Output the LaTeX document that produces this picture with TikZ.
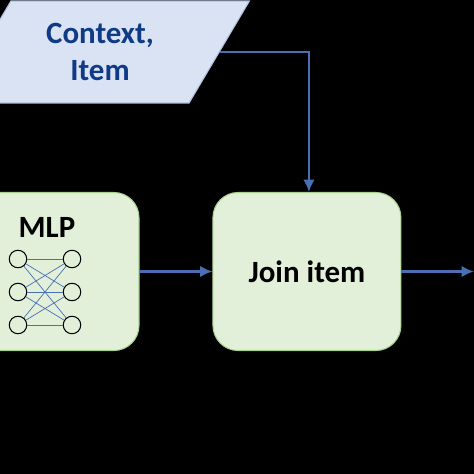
\documentclass[tikz,border=0pt]{standalone}
\usepackage{fontspec}
\setmainfont{Carlito}
\usetikzlibrary{shapes.geometric, arrows.meta}
\usetikzlibrary{positioning}
\definecolor{ctxfill}{HTML}{DAE3F3}
\definecolor{ctxtext}{HTML}{0F3A85}
\definecolor{boxfill}{HTML}{E2F0D9}
\definecolor{boxline}{HTML}{A9D18E}
\definecolor{linkblue}{HTML}{4A6FB5}
\tikzstyle{io} = [trapezium, 
trapezium stretches=true, 
trapezium left angle=60, 
trapezium right angle=120, 
minimum width=5.98cm, 
minimum height=2.04cm, text centered, align=center,
draw=ctxfill!70!linkblue, line width=0.6pt, fill=ctxfill,
text=ctxtext, font=\fontsize{17.6}{21.5}\selectfont\bfseries]
\tikzstyle{arrow} = [line width=1.25pt,-{Latex[length=7pt,width=6.5pt]},draw=linkblue]
\tikzstyle{block} = [draw=boxline, line width=0.6pt, fill=boxfill, rectangle, rounded corners=0.5cm,
    minimum height=3.16cm, font=\fontsize{17.6}{21}\selectfont\bfseries]
\tikzstyle{neuron} = [draw=black, circle, line width=0.6pt, fill=boxfill, minimum size=0.35cm, inner sep=0pt]
\tikzstyle{wire} = [draw=linkblue, line width=0.4pt]
\tikzstyle{output} = [coordinate]

\begin{document}
\begin{tikzpicture}[auto, x=0.02cm, y=-0.02cm]
            \clip (0,0) rectangle (474,474);
            \fill [black] (0,0) rectangle (474,474);
            \node [io] (context) at (100,52) 
            {Context,\\Item};
            \node [block, minimum width=3.58cm] (mlp) at (49.5,271.5) 
            {};
            \node [block, minimum width=3.76cm, right of=mlp, node distance=5.15cm] (join) 
            {Join item};
            \node [output, right of=join, node distance=3.34cm] (output) 
            {};
            \node [font=\fontsize{17.6}{21}\selectfont\bfseries] (mlplabel) at (47,227) 
            {MLP};
            % input and output layer
            \foreach \i/\y in {1/259,2/292,3/325}
            {
                \node [neuron] (a\i) at (18,\y) {};
                \node [neuron] (b\i) at (72,\y) {};
            }
            \foreach \i in {1,2,3}
                \foreach \j in {1,2,3}
                    \draw [wire] (a\i) -- (b\j);
            \draw [arrow] (context.east) -| ([xshift=0.04cm]join.north);
            \draw [arrow] (mlp) -- (join);
            \draw [arrow] (join) -- (output);
        \end{tikzpicture}
\end{document}
